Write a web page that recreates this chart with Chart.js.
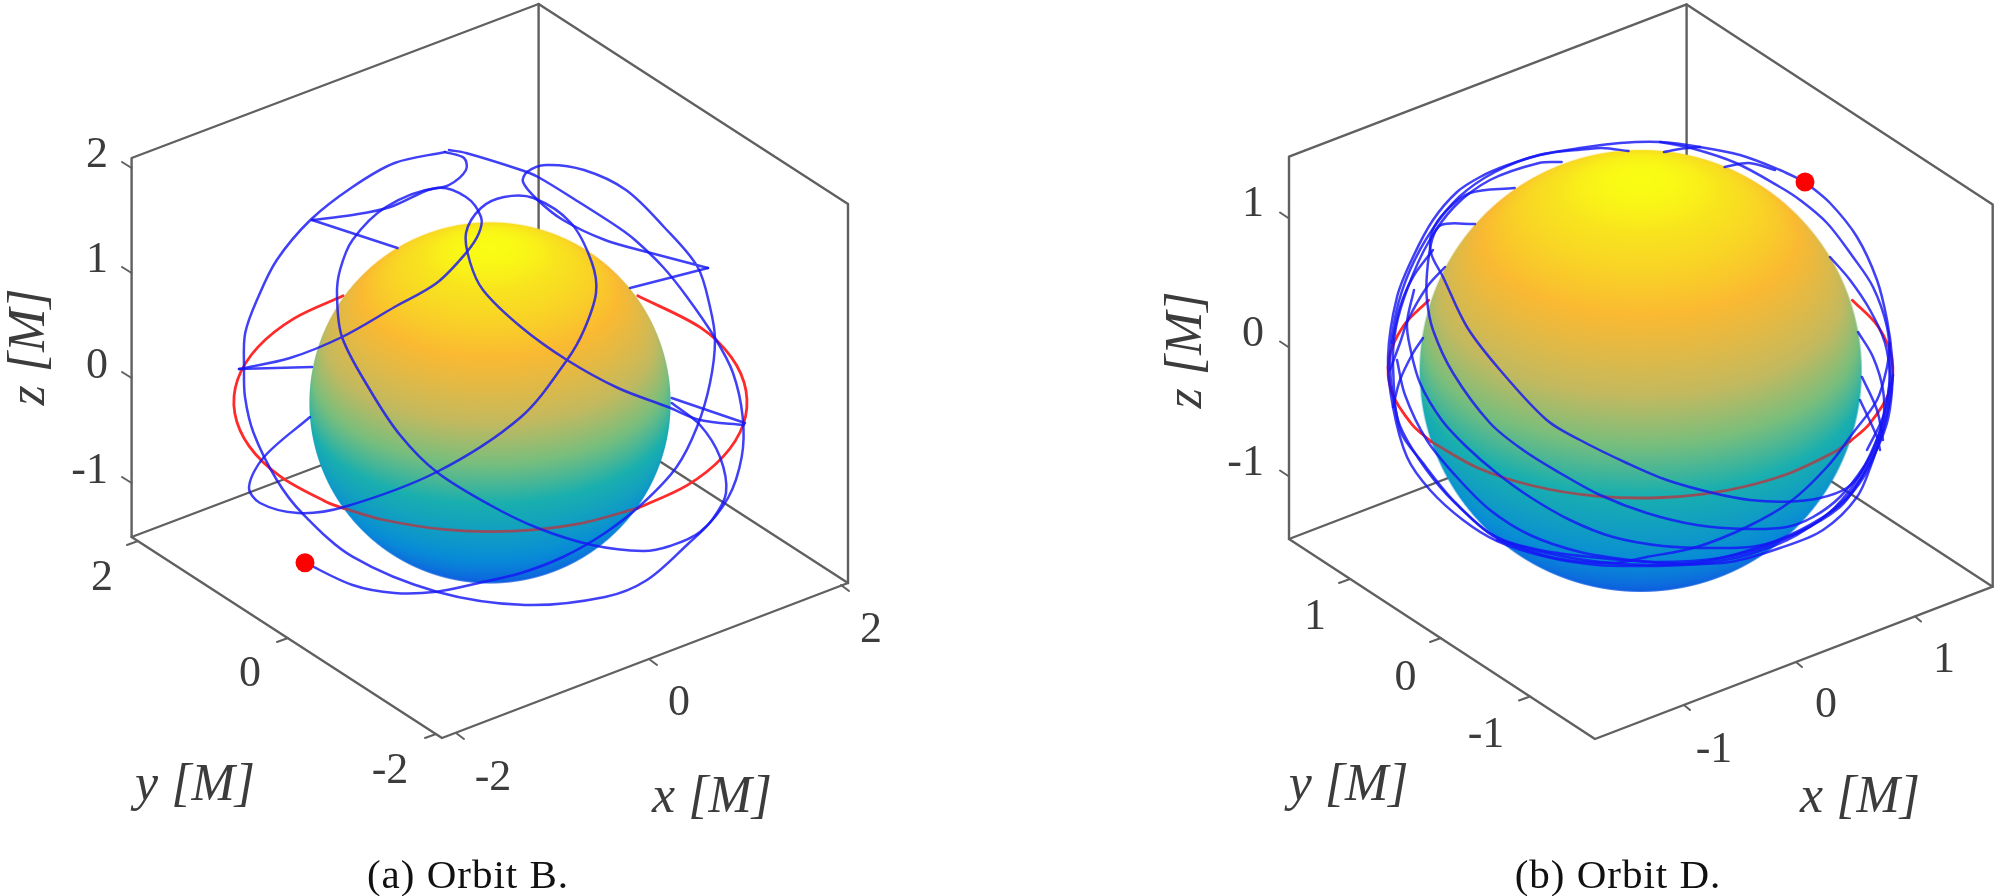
<!DOCTYPE html>
<html><head><meta charset="utf-8">
<style>
html,body{margin:0;padding:0;background:#fff;width:2000px;height:896px;overflow:hidden}
canvas{position:absolute;top:0;filter:blur(0.7px)}
#a{left:0}#b{left:1000px}
</style>
<script src="https://cdn.jsdelivr.net/npm/chart.js@4"></script>
</head><body>
<canvas id="a" width="1000" height="896"></canvas>
<canvas id="b" width="1000" height="896"></canvas>
<script>
// ---------- Panel (a) Orbit B : view-plane readings ----------
const A_boxEdges=[
 [[131.6,537],[131.6,158],[538.6,4],[848,204],[848,583],[442,738],[131.6,537]],
 [[538.6,4],[538.6,383]],
 [[131.6,537],[538.6,383],[848,583]]
];
const A_zTickAt=[168,273,378,483];
const A_xTickAt=[[456,733],[649,659],[841,585]];
const A_yTickAt=[[138,541],[288,638],[436,734]];
const A_sphere=[[490,402.7]];
const A_sphereRadius=180.6;
const A_dot=[[305,562.7]];
const A_ringLeft=[[343.1,295.8],[293.8,318.6],[257.9,347.1],[237.7,379.4],[234.8,413.3],[249.3,446.4],[280.2,476.4],[325.4,501.4],[343.1,508.2]];
const A_ringFront=[[343.1,508.2],[381.9,519.5],[445.8,529.7],[512.7,531.2],[578.2,523.9],[637.7,508.2]];
const A_ringRight=[[637.7,508.2],[687,485.4],[722.9,456.9],[743.2,424.6],[746,390.7],[731.6,357.6],[700.6,327.6],[637.7,295.8]];
const A_orbit1=[[449,150],[466,153],[521,170],[538,177],[575.6,200],[617.7,227],[635,240],[663,267],[687,297],[715,338],[733,373],[742.7,417],[741.7,457],[728,498],[700,532],[670,546],[643,551],[592,545],[537.7,528],[490,505],[436.7,472],[400,435],[370,390],[342,337],[337,295],[340,270],[352.5,240],[386,207],[436.7,188],[466,197],[481,217],[479,233],[466,253],[436.7,283],[394.6,307],[342,337],[290,358],[239,369]];
const A_orbit1b=[[239,369],[312,367]];
const A_orbit2=[[744,425],[700,420],[668,407],[618,388],[567,360],[521,327],[483,290],[470,262],[466,233],[481,208],[504,197],[533.5,198],[571,223],[592,263],[596,293],[584,330],[567,360],[521,417],[436.7,472],[344,507],[298,513],[260,503],[249,487],[264,457],[310,417]];
const A_orbit2b=[[671.7,398],[745,423]];
const A_orbit3=[[445,152],[394.6,163],[352.5,187],[310.4,220],[276.8,260],[257.8,298],[245.2,333],[244,367],[245,397],[253.6,433],[276.8,480],[302,513],[352.5,556.7],[436.7,591.7],[525,605],[605,597],[647,580],[689,543],[712,520],[726,493],[720,457],[700,425],[671.7,403]];
const A_orbit4=[[305,562.7],[352.5,585],[394.6,593],[436.7,591.7],[478.8,583],[521,573],[563,557],[605,533],[643,503],[676.6,467],[697,427],[710,383],[715,340],[710,307],[697.6,267],[664,227],[626,190],[584,170],[546,165],[527,172],[523,182],[537.7,200],[563,220],[605,240],[647,252],[708,268]];
const A_orbit4b=[[708,268],[630,288]];
const A_orbit5=[[397.5,248],[312,220]];
const A_orbit5b=[[312,220],[352.5,215],[390.4,207],[428,190],[449,185],[466,170],[464,158],[445,152]];
const A_labels=[
 ['2',108,152,'right'],['1',108,257,'right'],['0',108,363,'right'],['-1',108,468,'right'],
 ['-2',493,775,'center'],['0',679,700,'center'],['2',871,627,'center'],
 ['2',102,575,'center'],['0',250,671,'center'],['-2',390,768,'center']];
const A_axisTitles=[['x [M]',712,798,0],['y [M]',195,786,0],['z [M]',30,347,-90]];
const A_caption=['(a) Orbit B.',468,877];

// ---------- Panel (b) Orbit D : view-plane readings ----------
const B_boxEdges=[
 [[1289,539],[1289,156.7],[1686.6,4.4],[1992.7,204.4],[1992.7,586.7],[1595,739],[1289,539]],
 [[1686.6,4.4],[1686.6,386.7]],
 [[1289,539],[1686.6,386.7],[1992.7,586.7]]
];
const B_zTickAt=[218.5,347.5,476.5];
const B_xTickAt=[[1684,705],[1796,662],[1915,616.5]];
const B_yTickAt=[[1350,579],[1441,638],[1530,696.5]];
const B_sphere=[[1640.6,370.8]];
const B_sphereRadius=221;
const B_dot=[[1805,182]];
const B_ringLeft=[[1428.7,300.2],[1403.2,326.2],[1389,358.9],[1391.8,392.3],[1411.7,424.1],[1431.2,441.6]];
const B_ringFront=[[1431.2,441.6],[1478.1,468],[1533.7,486],[1596.6,496.1],[1662.5,497.5],[1726.9,490.3],[1785.4,474.8],[1833.9,452.3],[1849.8,441.6]];
const B_ringRight=[[1849.8,441.6],[1869.3,424.1],[1889.2,392.3],[1892,358.9],[1877.9,326.2],[1852.3,300.2]];
const B_orbit1=[[1805,182],[1830,203],[1857,237],[1877,280],[1887,320],[1892,357],[1892,390],[1887,423],[1873,457],[1847,497],[1797,535],[1747,555],[1697,564],[1647,566],[1597,565],[1547,557],[1497,541],[1463,520],[1430,490],[1407,457],[1393,407],[1388,357],[1397,297],[1413,257],[1433,220],[1457,192],[1480,177],[1505,166],[1540,155],[1580,148],[1620,143],[1660,142],[1700,147],[1740,155],[1780,170],[1805,182]];
const B_orbit3=[[1628.6,151],[1602,148],[1588,149],[1539,155],[1495,172],[1459,197],[1432,230],[1410,270],[1396,313],[1390,363],[1398,420],[1413,450],[1440,487],[1470,517],[1497,538],[1547,553],[1600,562],[1650,565],[1700,562],[1750,550],[1800,530],[1840,505],[1865,475],[1880,440],[1888,410],[1890,377],[1885,343],[1870,310],[1850,280],[1830,257]];
const B_orbit4=[[1561.6,162],[1539,163],[1490,180],[1454,207],[1428,243],[1408,287],[1396,327],[1393,365],[1400,430],[1423,463],[1453,500],[1493,535],[1540,550],[1600,558],[1660,562],[1720,558],[1770,545],[1820,520],[1850,490],[1870,455],[1883,420],[1883,390],[1873,357],[1858,332]];
const B_orbit5=[[1514.7,188],[1470,193],[1445,212],[1432,232],[1431,253],[1443,277],[1467,327],[1500,370],[1546.7,420],[1580,440],[1626.7,463],[1666.7,480],[1713,493],[1750,500],[1786.7,501.7],[1820,498],[1846.7,488],[1863,470],[1877,440],[1887,403],[1890,363],[1887,327],[1873,287],[1853,257],[1827,223],[1800,200],[1780,187],[1736,163],[1691,148],[1660,142]];
const B_orbit6=[[1475,224],[1441,225],[1432,240],[1427,273],[1427,300],[1433,330],[1453,373],[1490,423],[1523,450],[1560,473],[1600,495],[1646.7,513],[1696.7,525],[1746.7,529],[1786.7,527],[1813,517],[1840,497],[1865,465],[1880,437],[1890,400],[1893,375]];
const B_orbit7=[[1414,290],[1407,323],[1410,347],[1420,383],[1441.7,420],[1466.7,447],[1496.7,473],[1530,497],[1570,520],[1613,537],[1663,546],[1713,548],[1757,546],[1797,533],[1840,507],[1860,480],[1878,447]];
const B_orbit8=[[1397,360],[1405,395],[1426.7,440],[1456.7,477],[1490,510],[1530,535],[1580,552],[1630,560],[1680,564],[1730,562],[1780,548],[1823,530],[1857,497],[1873,460],[1883,430]];
const B_orbit9=[[1497,540],[1555,558],[1613,563],[1646.7,557],[1696.7,547],[1746.7,527],[1790,502],[1827,467],[1853,433],[1877,400],[1887,367],[1890,343]];
const B_piece1=[[1423,338],[1413,353],[1400,380],[1393,407]];
const B_piece2=[[1445,267],[1427,287],[1408,320],[1400,343],[1390,370]];
const B_piece3=[[1433,250],[1413,277],[1400,307],[1392,343]];
const B_piece4=[[1867,450],[1883,417],[1890,383]];
const B_piece5=[[1862,377],[1877,410],[1883,440]];
const B_piece6=[[1860,400],[1877,437],[1880,450]];
const B_piece7=[[1664,152],[1680,149],[1700,147]];
const B_piece8=[[1724.6,167],[1749,163],[1775,170]];
const B_labels=[
 ['1',1264,201,'right'],['0',1264,331,'right'],['-1',1264,460,'right'],
 ['-1',1714,747,'center'],['0',1826,702,'center'],['1',1944,657,'center'],
 ['1',1315,614,'center'],['0',1405.6,675,'center'],['-1',1486,732,'center']];
const B_axisTitles=[['x [M]',1860,798,0],['y [M]',1348.6,786,0],['z [M]',1187,350,-90]];
const B_caption=['(b) Orbit D.',1618,877];

// ---------- styles ----------
const BOX='#606060', BLUE='rgba(22,22,245,0.82)', RED='#ff2a2a', REDFRONT='rgba(190,50,60,0.75)';
const CURVE=0.33;
const SPHERE_STOPS=[[1,[250,252,20]],[.93,[248,228,30]],[.7,[250,185,50]],[.4,[195,185,95]],[.18,[120,190,125]],[-.07,[25,175,175]],[-.5,[8,140,215]],[-.87,[15,85,225]],[-1,[15,85,225]]];
const ELEV=30*Math.PI/180;

function sphereImage(r){
  const n=Math.ceil(2*r+4),c=document.createElement('canvas');c.width=c.height=n;
  const g=c.getContext('2d'),im=g.createImageData(n,n),m=n/2;
  for(let j=0;j<n;j++)for(let i=0;i<n;i++){
    const u=(i+.5-m)/r,v=(m-j-.5)/r,d=Math.hypot(u,v);
    const a=Math.max(0,Math.min(1,(1-d)*r+.5)); if(a<=0)continue;
    const w=Math.sqrt(Math.max(0,1-u*u-v*v)),z=v*Math.cos(ELEV)+w*Math.sin(ELEV);
    let k=0;while(k<SPHERE_STOPS.length-2&&z<SPHERE_STOPS[k+1][0])k++;
    const [z0,c0]=SPHERE_STOPS[k],[z1,c1]=SPHERE_STOPS[k+1],t=Math.max(0,Math.min(1,(z0-z)/(z0-z1)));
    const o=(j*n+i)*4;
    for(let q=0;q<3;q++)im.data[o+q]=c0[q]+(c1[q]-c0[q])*t;
    im.data[o+3]=a*255;
  }
  g.putImageData(im,0,0);return c;
}
const toXY=a=>a.map(p=>({x:p[0],y:p[1]}));
const line=(a,color,width,tension)=>({type:'scatter',data:toXY(a),showLine:true,pointRadius:0,borderColor:color,borderWidth:width,tension:tension,fill:false,borderCapStyle:'round',borderJoinStyle:'round',clip:false});
const marker=(a,style,r,color)=>({type:'scatter',data:toXY(a),showLine:false,pointStyle:style,pointRadius:r,pointBorderWidth:0,pointBackgroundColor:color,pointBorderColor:color,clip:false});

function ticks(list,dx,dy){return list.map(p=>line([p,[p[0]+dx,p[1]+dy]],BOX,2,0));}

const textPlugin={id:'panelText',afterDatasetsDraw(chart,_a,o){
  const c=chart.ctx,X=v=>chart.scales.x.getPixelForValue(v),Y=v=>chart.scales.y.getPixelForValue(v);
  c.save();c.fillStyle='#3c3c3c';
  c.textBaseline='alphabetic';c.font='44px "Liberation Serif"';
  o.labels.forEach(l=>{c.textAlign=l[3];c.fillText(l[0],X(l[1]),Y(l[2])+15);});
  c.textBaseline='middle';c.font='italic 52px "Liberation Serif"';c.textAlign='center';
  o.titles.forEach(l=>{c.save();c.translate(X(l[1]),Y(l[2]));c.rotate(l[3]*Math.PI/180);c.fillText(l[0],0,0);c.restore();});
  c.fillStyle='#111';c.font='41px "Liberation Serif"';c.letterSpacing='1px';
  c.fillText(o.caption[0],X(o.caption[1]),Y(o.caption[2]));
  c.restore();
}};

function panel(id,xMin,xMax,sets,labels,titles,caption){
  return new Chart(document.getElementById(id),{
    type:'scatter',data:{datasets:sets},
    options:{responsive:false,animation:false,devicePixelRatio:1,layout:{padding:0,autoPadding:false},
      scales:{x:{type:'linear',min:xMin,max:xMax,display:false},y:{type:'linear',min:0,max:896,reverse:true,display:false}},
      plugins:{legend:{display:false},tooltip:{enabled:false},panelText:{labels,titles,caption}}},
    plugins:[textPlugin]});
}
// lower order paints on top in Chart.js, so earlier list entries get higher order
function ordered(list){return list.map((d,i)=>Object.assign(d,{order:list.length-i}));}

const A_sets=ordered([
 ...A_boxEdges.map(e=>line(e,BOX,2.4,0)),
 ...A_zTickAt.map(y=>line([[131.6,y],[122,y-6]],BOX,2,0)),
 ...ticks(A_xTickAt,8,6),...ticks(A_yTickAt,-11,4),
 marker(A_sphere,sphereImage(A_sphereRadius),A_sphereRadius,'#000'),
 line(A_ringLeft,RED,2.8,CURVE),line(A_ringRight,RED,2.8,CURVE),line(A_ringFront,REDFRONT,2.8,CURVE),
 ...[A_orbit1,A_orbit2,A_orbit3,A_orbit4,A_orbit5b].map(a=>line(a,BLUE,2.5,CURVE)),
 ...[A_orbit1b,A_orbit2b,A_orbit4b,A_orbit5].map(a=>line(a,BLUE,2.5,0)),
 marker(A_dot,'circle',9.5,'#ff0000')
]);
const B_sets=ordered([
 ...B_boxEdges.map(e=>line(e,BOX,2.4,0)),
 ...B_zTickAt.map(y=>line([[1289,y],[1280,y-6]],BOX,2,0)),
 ...ticks(B_xTickAt,6,5),...ticks(B_yTickAt,-11,4),
 marker(B_sphere,sphereImage(B_sphereRadius),B_sphereRadius,'#000'),
 line(B_ringLeft,RED,2.8,CURVE),line(B_ringRight,RED,2.8,CURVE),line(B_ringFront,REDFRONT,2.8,CURVE),
 ...[B_orbit1,B_orbit3,B_orbit4,B_orbit5,B_orbit6,B_orbit7,B_orbit8,B_orbit9,B_piece1,B_piece2,B_piece3,B_piece4,B_piece5,B_piece6,B_piece7,B_piece8].map(a=>line(a,BLUE,2.5,CURVE)),
 marker(B_dot,'circle',9.5,'#ff0000')
]);
panel('a',0,1000,A_sets,A_labels,A_axisTitles,A_caption);
panel('b',1000,2000,B_sets,B_labels,B_axisTitles,B_caption);
</script>
</body></html>
